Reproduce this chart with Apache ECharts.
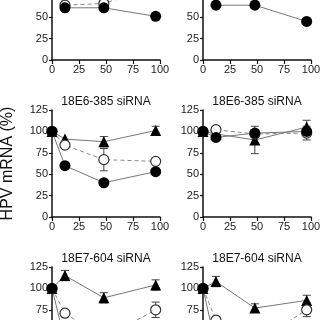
<!DOCTYPE html>
<html>
<head>
<meta charset="utf-8">
<script src="https://cdn.jsdelivr.net/npm/echarts@6/dist/echarts.min.js"></script>
<style>
  html, body { margin: 0; padding: 0; background: #fff; }
  #main { width: 320px; height: 320px; }
</style>
</head>
<body>
<div id="main"></div>
<script>
// time points (h) and axis ticks
var hours = [0, 12, 48, 96];
var xTicks = [0, 25, 50, 75, 100];
var yTicks = [0, 25, 50, 75, 100, 125];
var panelTitles = ['', '', '18E6-385 siRNA', '18E6-385 siRNA', '18E7-604 siRNA', '18E7-604 siRNA'];

// top row (titles cut off)
var p1Filled = [100, 61, 61, 51];
var p1Open   = [100, 64, 66, 86];
var p1Tri    = [100, 96, 98, 100];
var p2Filled = [100, 64, 64, 45];
var p2Open   = [100, 96, 92, 79];
var p2Tri    = [100, 101, 97, 102];

// middle row
var p3Filled = [100, 60, 40, 53];
var p3Open   = [100, 84, 67, 65];
var p3OpenErr = [0, 0, 13, 0];
var p3Tri    = [100, 91, 88, 101];
var p3TriErr = [0, 0, 6, 5];
var p4Filled = [100, 93, 98, 100];
var p4Open   = [100, 102, 97, 98];
var p4OpenErr = [0, 0, 0, 8];
var p4Tri    = [100, 97, 90, 105];
var p4TriErr = [0, 0, 16, 8];

// bottom row
var p5Filled = [100, 38, 22, 30];
var p5Open   = [100, 71, 42, 75];
var p5OpenErr = [0, 0, 0, 9];
var p5Tri    = [100, 115, 89, 104];
var p5TriErr = [0, 6, 6, 6];
var p6Filled = [100, 32, 25, 38];
var p6Open   = [100, 63, 36, 75];
var p6OpenErr = [0, 0, 0, 8];
var p6Tri    = [100, 108, 77, 86];
var p6TriErr = [0, 6, 5, 6];

var panels = [
  {filled: p1Filled, open: p1Open, tri: p1Tri},
  {filled: p2Filled, open: p2Open, tri: p2Tri},
  {filled: p3Filled, open: p3Open, openErr: p3OpenErr, tri: p3Tri, triErr: p3TriErr},
  {filled: p4Filled, open: p4Open, openErr: p4OpenErr, tri: p4Tri, triErr: p4TriErr},
  {filled: p5Filled, open: p5Open, openErr: p5OpenErr, tri: p5Tri, triErr: p5TriErr},
  {filled: p6Filled, open: p6Open, openErr: p6OpenErr, tri: p6Tri, triErr: p6TriErr}
];

var FONT = 'Liberation Sans, Arial, sans-serif';
var lefts = [52, 203];
var tops = [-47, 110, 267];
var W = 108, H = 107;

var myChart = echarts.init(document.getElementById('main'));

function pairs(vals) {
  return hours.map(function (h, i) { return [h, vals[i]]; });
}
function errData(vals, errs) {
  var out = [];
  if (!errs) return out;
  hours.forEach(function (h, i) {
    if (errs[i] > 0) out.push([h, vals[i] - errs[i], vals[i] + errs[i]]);
  });
  return out;
}
function errorRender(params, api) {
  var x = api.value(0);
  var lo = api.coord([x, api.value(1)]);
  var hi = api.coord([x, api.value(2)]);
  var cap = 4;
  var st = {stroke: '#444', lineWidth: 1};
  return {
    type: 'group',
    children: [
      {type: 'line', shape: {x1: lo[0], y1: lo[1], x2: hi[0], y2: hi[1]}, style: st},
      {type: 'line', shape: {x1: lo[0] - cap, y1: lo[1], x2: lo[0] + cap, y2: lo[1]}, style: st},
      {type: 'line', shape: {x1: hi[0] - cap, y1: hi[1], x2: hi[0] + cap, y2: hi[1]}, style: st}
    ]
  };
}

var grids = [], xAxes = [], yAxes = [], titles = [], series = [];

panels.forEach(function (p, k) {
  var row = Math.floor(k / 2), col = k % 2;
  grids.push({left: lefts[col], top: tops[row], width: W, height: H,
    containLabel: false, outerBoundsMode: 'none'});
  xAxes.push({
    gridIndex: k, type: 'value', min: 0, max: 100, interval: 25,
    axisLine: {lineStyle: {color: '#111', width: 1.5}},
    axisTick: {length: 4, lineStyle: {color: '#111', width: 1.2}},
    axisLabel: {margin: 4, color: '#222', fontSize: 11, fontFamily: FONT,
      formatter: function (v) { return xTicks.indexOf(v) >= 0 ? String(v) : ''; }},
    splitLine: {show: false}
  });
  var ya = {
    gridIndex: k, type: 'value', min: 0, max: 125, interval: 25,
    axisLine: {show: true, lineStyle: {color: '#111', width: 1.5}},
    axisTick: {show: true, length: 3, lineStyle: {color: '#111', width: 1.2}},
    axisLabel: {margin: 4, color: '#222', fontSize: 11, fontFamily: FONT,
      formatter: function (v) { return yTicks.indexOf(v) >= 0 ? String(v) : ''; }},
    splitLine: {show: false}
  };
  if (k === 2) {
    ya.name = 'HPV mRNA (%)';
    ya.nameLocation = 'middle';
    ya.nameRotate = 90;
    ya.nameGap = 36;
    ya.nameTextStyle = {fontSize: 16, color: '#111', fontFamily: FONT};
  }
  yAxes.push(ya);
  if (panelTitles[k]) {
    titles.push({
      text: panelTitles[k], left: lefts[col] + W / 2, top: tops[row] - 14, textAlign: 'center',
      padding: 0,
      textStyle: {fontSize: 12, fontWeight: 'normal', color: '#111', fontFamily: FONT}
    });
  }

  series.push({type: 'custom', xAxisIndex: k, yAxisIndex: k, renderItem: errorRender,
    data: errData(p.tri, p.triErr), z: 1, silent: true});
  series.push({type: 'custom', xAxisIndex: k, yAxisIndex: k, renderItem: errorRender,
    data: errData(p.open, p.openErr), z: 1, silent: true});
  series.push({type: 'line', xAxisIndex: k, yAxisIndex: k, data: pairs(p.tri),
    symbol: 'triangle', symbolSize: 11, z: 3,
    lineStyle: {color: '#777', width: 1}, itemStyle: {color: '#000'}});
  series.push({type: 'line', xAxisIndex: k, yAxisIndex: k, data: pairs(p.open),
    symbol: 'circle', symbolSize: 10, showAllSymbol: true, z: 3,
    lineStyle: {color: '#888', width: 1, type: [4, 3]},
    itemStyle: {color: '#fff', borderColor: '#333', borderWidth: 1.2}});
  series.push({type: 'line', xAxisIndex: k, yAxisIndex: k, data: pairs(p.filled),
    symbol: 'circle', symbolSize: 11, z: 4,
    lineStyle: {color: '#777', width: 1}, itemStyle: {color: '#000'}});
});

var option = {
  animation: false,
  backgroundColor: '#fff',
  title: titles,
  grid: grids,
  xAxis: xAxes,
  yAxis: yAxes,
  series: series
};
myChart.setOption(option);
</script>
</body>
</html>
